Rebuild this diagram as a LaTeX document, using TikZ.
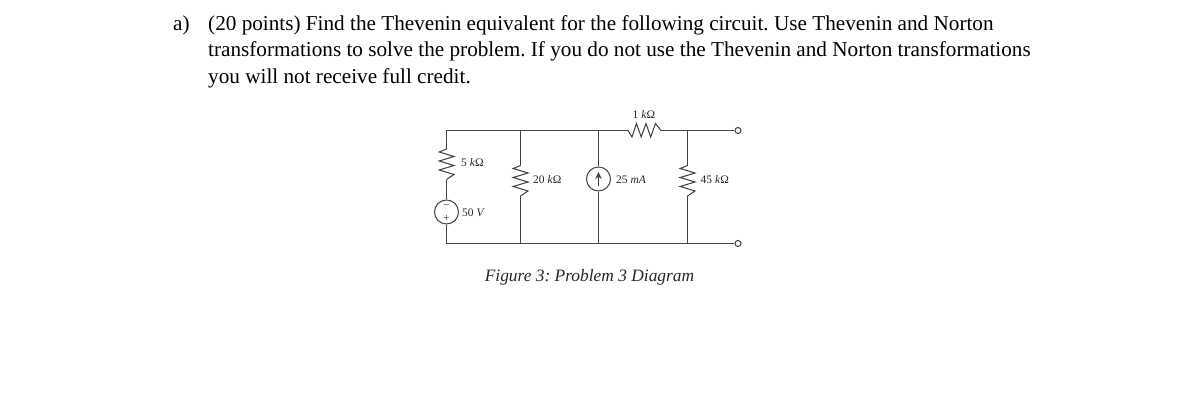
\documentclass[tikz,border=0pt]{standalone}
\usepackage{fontspec}
\setmainfont{Liberation Serif}
\usetikzlibrary{arrows.meta}
\definecolor{wirec}{HTML}{444444}
\newcommand{\vresistor}[2]{\draw[wire,line join=miter] (#1) -- ++(-7.3,3) -- ++(14.8,4.5) -- ++(-14.8,4.5) -- ++(14.8,4.5) -- ++(-14.8,4.5) -- ++(14.8,4.5) -- (#2);}
\frenchspacing
\begin{document}
\begin{tikzpicture}[x=1pt,y=-1pt,
  wire/.style={draw=wirec,line width=1.05pt},
  src/.style={circle,draw=wirec,line width=1.05pt,minimum size=24pt,inner sep=0pt},
  term/.style={circle,draw=wirec,line width=1.05pt,minimum size=6pt,inner sep=0pt},
  body/.style={anchor=base west,inner sep=0pt,font=\fontsize{21.2}{24}\selectfont,text=black},
  val/.style={anchor=base west,inner sep=0pt,font=\fontsize{11.5}{12}\selectfont,text=black!85},
  figcap/.style={anchor=base,inner sep=0pt,font=\fontsize{17.4}{20}\selectfont\itshape,text=black!85}]
\useasboundingbox[fill=white] (0,0) rectangle (1179,404);
\node[body] (ta) at (173,31) {a)};
\node[body] (t1) at (208,31) {(20 points) Find the Thevenin equivalent for the following circuit. Use Thevenin and Norton};
\node[body] (t2) at (208,57) {transformations to solve the problem. If you do not use the Thevenin and Norton transformations};
\node[body] (t3) at (208,84) {you will not receive full credit.};
\node[figcap] (fig) at (589.5,281) {Figure 3: Problem 3 Diagram};
% junctions
\coordinate (tl) at (446.5,130.5); \coordinate (bl) at (446.5,243.5);
\coordinate (t2j) at (520.5,130.5); \coordinate (b2j) at (520.5,243.5);
\coordinate (t3j) at (598.5,130.5); \coordinate (b3j) at (598.5,243.5);
\coordinate (t4j) at (687.5,130.5); \coordinate (b4j) at (687.5,243.5);
\node[term] (p1) at (738,130.5) {};
\node[term] (p2) at (738,243.5) {};
% resistor ends
\coordinate (r1a) at (446.5,149); \coordinate (r1b) at (446.5,179.5);
\coordinate (r2a) at (520.5,165.5); \coordinate (r2b) at (520.5,196);
\coordinate (r3a) at (628,130.5); \coordinate (r3b) at (661,130.5);
\coordinate (r4a) at (687.5,165.5); \coordinate (r4b) at (687.5,196);
% sources
\node[src] (vs) at (446.5,212) {};
\node[src] (is) at (598.5,179) {};
\node[inner sep=0pt,font=\fontsize{11}{11}\selectfont,text=black!85] (vm) at (446.5,206.5) {−};
\node[inner sep=0pt,font=\fontsize{11}{11}\selectfont,text=black!85] (vp) at (446.5,218) {+};
\coordinate (ia) at (598.5,186); \coordinate (ib) at (598.5,172);
\draw[wire,line width=1.3pt,-{Stealth[length=7pt,width=6.5pt]}] (ia) -- (ib);
% wires
\draw[wire] (p2.west) -- (bl) -- (vs.south);
\draw[wire] (vs.north) -- (r1b);
\vresistor{r1a}{r1b}
\draw[wire] (r1a) -- (tl) -- (r3a);
\draw[wire,line join=miter] (r3a) -- ++(4,6.5) -- ++(4.5,-13.5) -- ++(4.7,13.5) -- ++(4.8,-13.5) -- ++(4.7,13.5) -- ++(4.8,-13.5) -- (r3b);
\draw[wire] (r3b) -- (p1.west);
\draw[wire] (t2j) -- (r2a);
\vresistor{r2a}{r2b}
\draw[wire] (r2b) -- (b2j);
\draw[wire] (t3j) -- (is.north);
\draw[wire] (is.south) -- (b3j);
\draw[wire] (t4j) -- (r4a);
\vresistor{r4a}{r4b}
\draw[wire] (r4b) -- (b4j);
% values
\node[val] (l1) at (461,166) {5 \textit{k}Ω};
\node[val] (l2) at (533,183) {20 \textit{k}Ω};
\node[val] (l3) at (632.5,118) {1 \textit{k}Ω};
\node[val] (l4) at (616,183) {25 \textit{mA}};
\node[val] (l5) at (700.5,183) {45 \textit{k}Ω};
\node[val] (l6) at (462,216) {50 \textit{V}};
\end{tikzpicture}
\end{document}
